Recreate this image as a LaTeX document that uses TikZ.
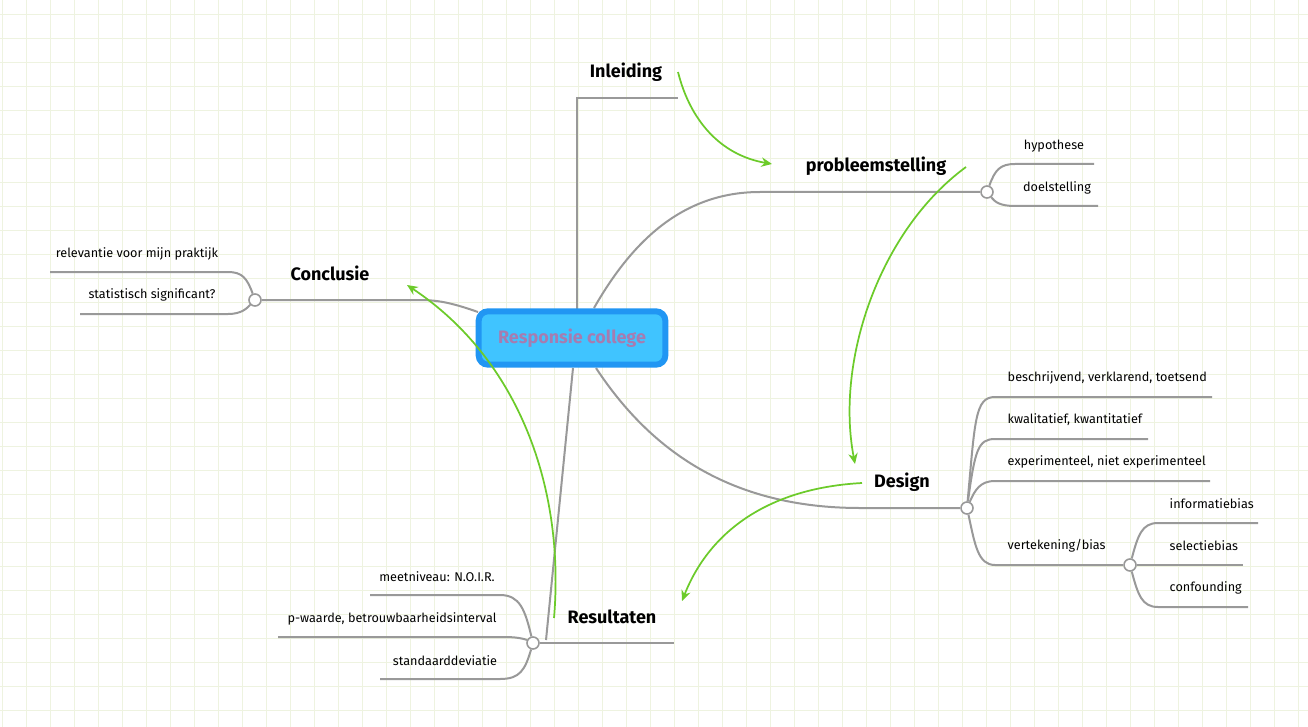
\documentclass[tikz,border=0pt]{standalone}
\usepackage{fontspec}
\usetikzlibrary{arrows.meta}
\setmainfont{Fira Sans}
\definecolor{gridc}{HTML}{EEF3E0}
\definecolor{br}{HTML}{999999}
\definecolor{gr}{HTML}{6CCB2A}
\definecolor{bdr}{HTML}{2196F3}
\definecolor{fil}{HTML}{40C4FF}
\definecolor{txt}{HTML}{A67CB0}
\begin{document}
\begin{tikzpicture}[x=0.75pt,y=-0.75pt,
  br/.style={draw=br,line width=1.5pt},
  ga/.style={draw=gr,line width=1.3pt,-{Stealth[length=8pt,width=7pt]}},
  main/.style={font=\fontsize{13.5}{15}\selectfont\bfseries},
  sub/.style={font=\fontsize{9.5}{11}\selectfont},
  knot/.style={circle,draw=br,fill=white,line width=1.2pt,minimum size=9pt,inner sep=0pt}]
\useasboundingbox (0,0) rectangle (1308,727);
\fill[white] (0,0) rectangle (1308,727);
\foreach \i in {0,...,54} {\draw[gridc,line width=0.6pt] (2+24*\i,0) -- (2+24*\i,727);}
\foreach \i in {0,...,30} {\draw[gridc,line width=0.6pt] (0,14+24*\i) -- (1308,14+24*\i);}
% branches
\coordinate (ie) at (678,98);
\draw[br] (577,310) -- (577,98) -- (ie);
\node[knot] (kp) at (987,192) {};
\draw[br] (594,308) .. controls (630,245) and (680,192) .. (760,192) -- (kp);
\node[knot] (kc) at (255,300) {};
\draw[br] (478,312) .. controls (455,304) and (440,300) .. (420,300) -- (kc);
\node[knot] (kd) at (967,508) {};
\draw[br] (596,368) .. controls (650,450) and (730,508) .. (860,508) -- (kd);
\node[knot] (kr) at (533,643) {};
\draw[br] (573,368) -- (546,640);
\draw[br] (kr) -- (674,643);
% sub branches probleemstelling
\draw[br] (kp) .. controls (995,170) and (1000,164) .. (1015,164) -- (1094,164);
\draw[br] (kp) .. controls (995,202) and (1000,206) .. (1015,206) -- (1098,206);
% conclusie
\draw[br] (kc) .. controls (247,278) and (242,272) .. (228,272) -- (50,272);
\draw[br] (kc) .. controls (247,308) and (242,314) .. (228,314) -- (80,314);
% design
\draw[br] (kd) .. controls (975,420) and (975,397) .. (995,397) -- (1212,397);
\draw[br] (kd) .. controls (975,450) and (978,439) .. (995,439) -- (1148,439);
\draw[br] (kd) .. controls (975,490) and (980,481) .. (995,481) -- (1210,481);
\node[knot] (kv) at (1130,565) {};
\draw[br] (kd) .. controls (975,545) and (978,565) .. (995,565) -- (kv);
\draw[br] (kv) .. controls (1138,535) and (1142,523) .. (1158,523) -- (1258,523);
\draw[br] (kv) -- (1243,565);
\draw[br] (kv) .. controls (1138,595) and (1142,607) .. (1158,607) -- (1248,607);
% resultaten
\draw[br] (kr) .. controls (525,610) and (520,595) .. (500,595) -- (370,595);
\draw[br] (kr) .. controls (527,640) and (520,637) .. (505,637) -- (278,637);
\draw[br] (kr) .. controls (525,670) and (520,679) .. (500,679) -- (380,679);
% center
\node[draw=bdr,fill=fil,line width=4.5pt,rounded corners=7pt,minimum width=140pt,minimum height=40pt,text=txt,font=\fontsize{13.5}{15}\selectfont\bfseries] (c) at (572,338) {Responsie college};
% labels
\node[main] (inl) at (626,72) {Inleiding};
\node[main] (pro) at (876,166) {probleemstelling};
\node[main] (con) at (330,273) {Conclusie};
\node[main] (des) at (902,482) {Design};
\node[main] (res) at (612,617) {Resultaten};
\node[sub] (h) at (1054,146) {hypothese};
\node[sub] (d) at (1057,188) {doelstelling};
\node[sub] (rv) at (137,254) {relevantie voor mijn praktijk};
\node[sub] (st) at (152,295) {statistisch significant?};
\node[sub,anchor=west] (d1) at (1003,378) {beschrijvend, verklarend, toetsend};
\node[sub,anchor=west] (d2) at (1003,420) {kwalitatief, kwantitatief};
\node[sub,anchor=west] (d3) at (1003,462) {experimenteel, niet experimenteel};
\node[sub,anchor=west] (d4) at (1003,546) {vertekening/bias};
\node[sub,anchor=west] (b1) at (1165,504) {informatiebias};
\node[sub,anchor=west] (b2) at (1165,546) {selectiebias};
\node[sub,anchor=west] (b3) at (1165,588) {confounding};
\node[sub] (r1) at (437,577) {meetniveau: N.O.I.R.};
\node[sub] (r2) at (392,619) {p-waarde, betrouwbaarheidsinterval};
\node[sub] (r3) at (445,661) {standaarddeviatie};
% green arrows
\coordinate (a1s) at (678,72); \coordinate (a1e) at (772,164);
\draw[ga] (a1s) .. controls (690,120) and (720,155) .. (a1e);
\coordinate (a2s) at (966,167); \coordinate (a2e) at (855,464);
\draw[ga] (a2s) .. controls (880,230) and (835,360) .. (a2e);
\coordinate (a3s) at (862,483); \coordinate (a3e) at (682,601);
\draw[ga] (a3s) .. controls (770,488) and (710,530) .. (a3e);
\coordinate (a4s) at (554,618); \coordinate (a4e) at (407,285);
\draw[ga] (a4s) .. controls (565,490) and (520,360) .. (a4e);
\end{tikzpicture}
\end{document}
